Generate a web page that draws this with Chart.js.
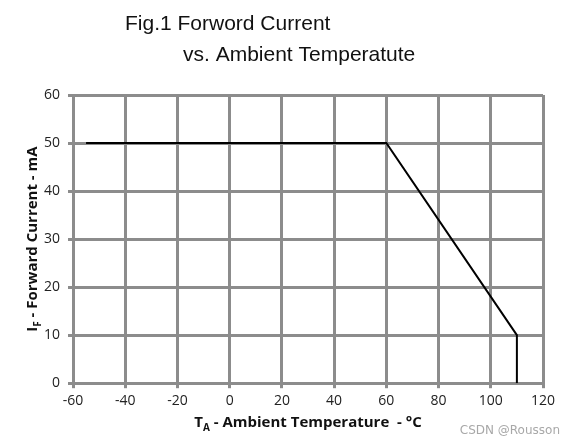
<!DOCTYPE html>
<html>
<head>
<meta charset="utf-8">
<script src="https://cdn.jsdelivr.net/npm/chart.js@4/dist/chart.umd.min.js"></script>
<style>
  html, body { margin: 0; padding: 0; background: #fff; }
  #wrap { width: 574px; height: 444px; }
</style>
</head>
<body>
<div id="wrap"><canvas id="deratingChart" width="574" height="444"></canvas></div>
<script>
// Forward current derating curve

const tempValues = [-55, 60, 110, 110];
const currentValues = [50, 50, 10, 0];
const xTicks = [-60, -40, -20, 0, 20, 40, 60, 80, 100, 120];
const yTicks = [0, 10, 20, 30, 40, 50, 60];

const titleLines = ['Fig.1 Forword Current', 'vs. Ambient Temperatute'];

const gridGray = '#8c8c8c';
const labelFont = '"Open Sans", "Noto Sans", sans-serif';

// draws the figure title, the axis titles (with subscripts) and the watermark
const annotations = {
  id: 'annotations',
  afterDraw(chart) {
    const ctx = chart.ctx;
    const area = chart.chartArea;
    ctx.save();

    ctx.fillStyle = '#111';
    ctx.font = '21px "Liberation Sans", Arial, sans-serif';
    ctx.textBaseline = 'alphabetic';
    ctx.textAlign = 'left';
    ctx.fillText(titleLines[0], 125, 30);
    ctx.fillText(titleLines[1], 183, 61);

    // x axis title
    ctx.fillStyle = '#111';
    const main = 'bold 15px ' + labelFont;
    const sub = 'bold 10px ' + labelFont;
    const xRest = ' - Ambient Temperature  - \u00B0C';
    ctx.font = main;
    const wT = ctx.measureText('T').width;
    const wRest = ctx.measureText(xRest).width;
    ctx.font = sub;
    const wA = ctx.measureText('A').width;
    let x0 = (area.left + area.right) / 2 - (wT + wA + wRest) / 2;
    const yb = 427;
    ctx.font = main;
    ctx.fillText('T', x0, yb);
    ctx.font = sub;
    ctx.fillText('A', x0 + wT, yb + 4);
    ctx.font = main;
    ctx.fillText(xRest, x0 + wT + wA, yb);

    // y axis title
    const yRest = ' - Forward Current - mA';
    ctx.font = main;
    const wI = ctx.measureText('I').width;
    const wYRest = ctx.measureText(yRest).width;
    ctx.font = sub;
    const wF = ctx.measureText('F').width;
    ctx.translate(37, (area.top + area.bottom) / 2);
    ctx.rotate(-Math.PI / 2);
    x0 = -(wI + wF + wYRest) / 2;
    ctx.font = main;
    ctx.fillText('I', x0, 0);
    ctx.font = sub;
    ctx.fillText('F', x0 + wI, 4);
    ctx.font = main;
    ctx.fillText(yRest, x0 + wI + wF, 0);
    ctx.restore();

    ctx.save();
    ctx.fillStyle = '#a8a8a8';
    ctx.font = '12px "DejaVu Sans", sans-serif';
    ctx.textAlign = 'right';
    ctx.fillText('CSDN @Rousson', 560, 434);
    ctx.restore();
  }
};

const ctx = document.getElementById('deratingChart').getContext('2d');
new Chart(ctx, {
  type: 'scatter',
  data: {
    datasets: [{
      data: tempValues.map((t, i) => ({ x: t, y: currentValues[i] })),
      showLine: true,
      borderColor: '#000',
      borderWidth: 2,
      pointRadius: 0,
      tension: 0
    }]
  },
  options: {
    responsive: false,
    animation: false,
    layout: { padding: { top: 95, left: 36, right: 31, bottom: 31 } },
    plugins: { legend: { display: false }, tooltip: { enabled: false } },
    scales: {
      x: {
        type: 'linear',
        min: xTicks[0],
        max: xTicks[xTicks.length - 1],
        afterBuildTicks: axis => { axis.ticks = xTicks.map(v => ({ value: v })); },
        grid: { color: gridGray, lineWidth: 3, tickLength: 5 },
        border: { color: gridGray, width: 3 },
        ticks: { color: '#222', font: { family: labelFont, size: 14 }, padding: 4, maxRotation: 0, autoSkip: false }
      },
      y: {
        min: yTicks[0],
        max: yTicks[yTicks.length - 1],
        afterBuildTicks: axis => { axis.ticks = yTicks.map(v => ({ value: v })); },
        grid: { color: gridGray, lineWidth: 3, tickLength: 5 },
        border: { color: gridGray, width: 3 },
        ticks: { color: '#222', font: { family: labelFont, size: 14 }, padding: 8 }
      }
    }
  },
  plugins: [annotations]
});
</script>
</body>
</html>
